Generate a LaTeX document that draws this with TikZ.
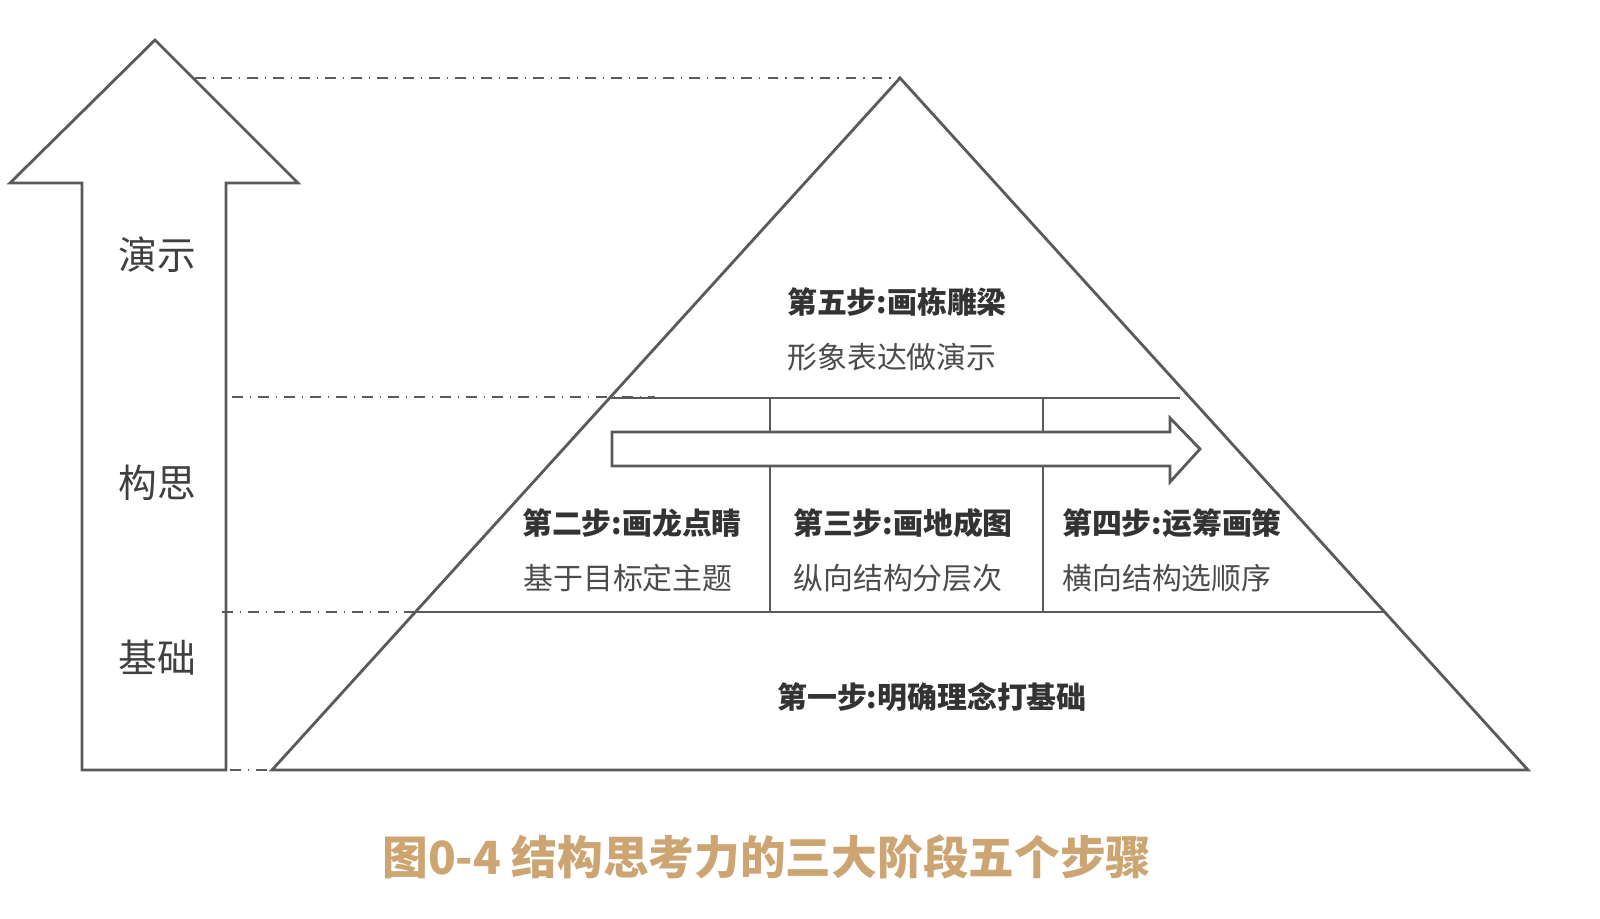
\documentclass[tikz,border=0pt]{standalone}
\usepackage{fontspec}
\setmainfont{Noto Sans CJK SC}
\usetikzlibrary{positioning}
\definecolor{gold}{RGB}{205,165,115}
\definecolor{lgray}{RGB}{90,90,90}
\tikzset{
  guide/.style={dash dot,lgray,line width=0.5pt},
  outline/.style={lgray,line width=0.8pt},
  stage/.style={font=\fontsize{11}{13}\selectfont,text=black!75},
  title/.style={font=\bfseries\fontsize{8.5}{10}\selectfont,text=black!80},
  sub/.style={font=\fontsize{8.5}{10}\selectfont,text=black!70}
}
\begin{document}
\begin{tikzpicture}[x=0.01cm,y=-0.01cm]
  \useasboundingbox (0,0) rectangle (1600,918);
  % pyramid corners
  \coordinate (apex) at (900,78);
  \coordinate (bl) at (272,770);
  \coordinate (br) at (1528,770);
  \coordinate (ml) at (415,612);
  \coordinate (mr) at (1385,612);
  \coordinate (tl) at (610,398);
  \coordinate (tr) at (1180,398);
  \draw[outline] (apex) -- (bl) -- (br) -- cycle;
  \draw[outline] (ml) -- (mr);
  \draw[outline] (tl) -- (tr);
  \draw[outline] (770,398) -- (770,612);
  \draw[outline] (1043,398) -- (1043,612);
  % horizontal arrow
  \draw[outline,fill=white] (612,432) -- (1170,432) -- (1170,418) -- (1200,449)
     -- (1170,482) -- (1170,466) -- (612,466) -- cycle;
  % upward arrow
  \draw[outline] (82,770) -- (82,183) -- (10,183) -- (155,40) -- (298,183)
     -- (226,183) -- (226,770) -- cycle;
  % guides
  \draw[guide] (195,78) -- (apex);
  \draw[guide] (232,397) -- (655,397);
  \draw[guide] (222,612) -- (ml);
  \draw[guide] (230,770) -- (bl);
  % stages
  \node[stage] (show) at (157,255) {演示};
  \node[stage] (idea) at (157,483) {构思};
  \node[stage] (base) at (157,658) {基础};
  % steps
  \node[title] (s5) at (897,302) {第五步:画栋雕梁};
  \node[sub] (s5b) at (892,357) {形象表达做演示};
  \node[title] (s2) at (632,523) {第二步:画龙点睛};
  \node[sub] (s2b) at (628,578) {基于目标定主题};
  \node[title] (s3) at (903,523) {第三步:画地成图};
  \node[sub] (s3b) at (898,578) {纵向结构分层次};
  \node[title] (s4) at (1172,523) {第四步:运筹画策};
  \node[sub] (s4b) at (1167,578) {横向结构选顺序};
  \node[title] (s1) at (932,697) {第一步:明确理念打基础};
  % caption
  \node[font=\bfseries\fontsize{13}{15}\selectfont,text=gold] (cap) at (767,857)
    {图0-4 结构思考力的三大阶段五个步骤};
\end{tikzpicture}
\end{document}
